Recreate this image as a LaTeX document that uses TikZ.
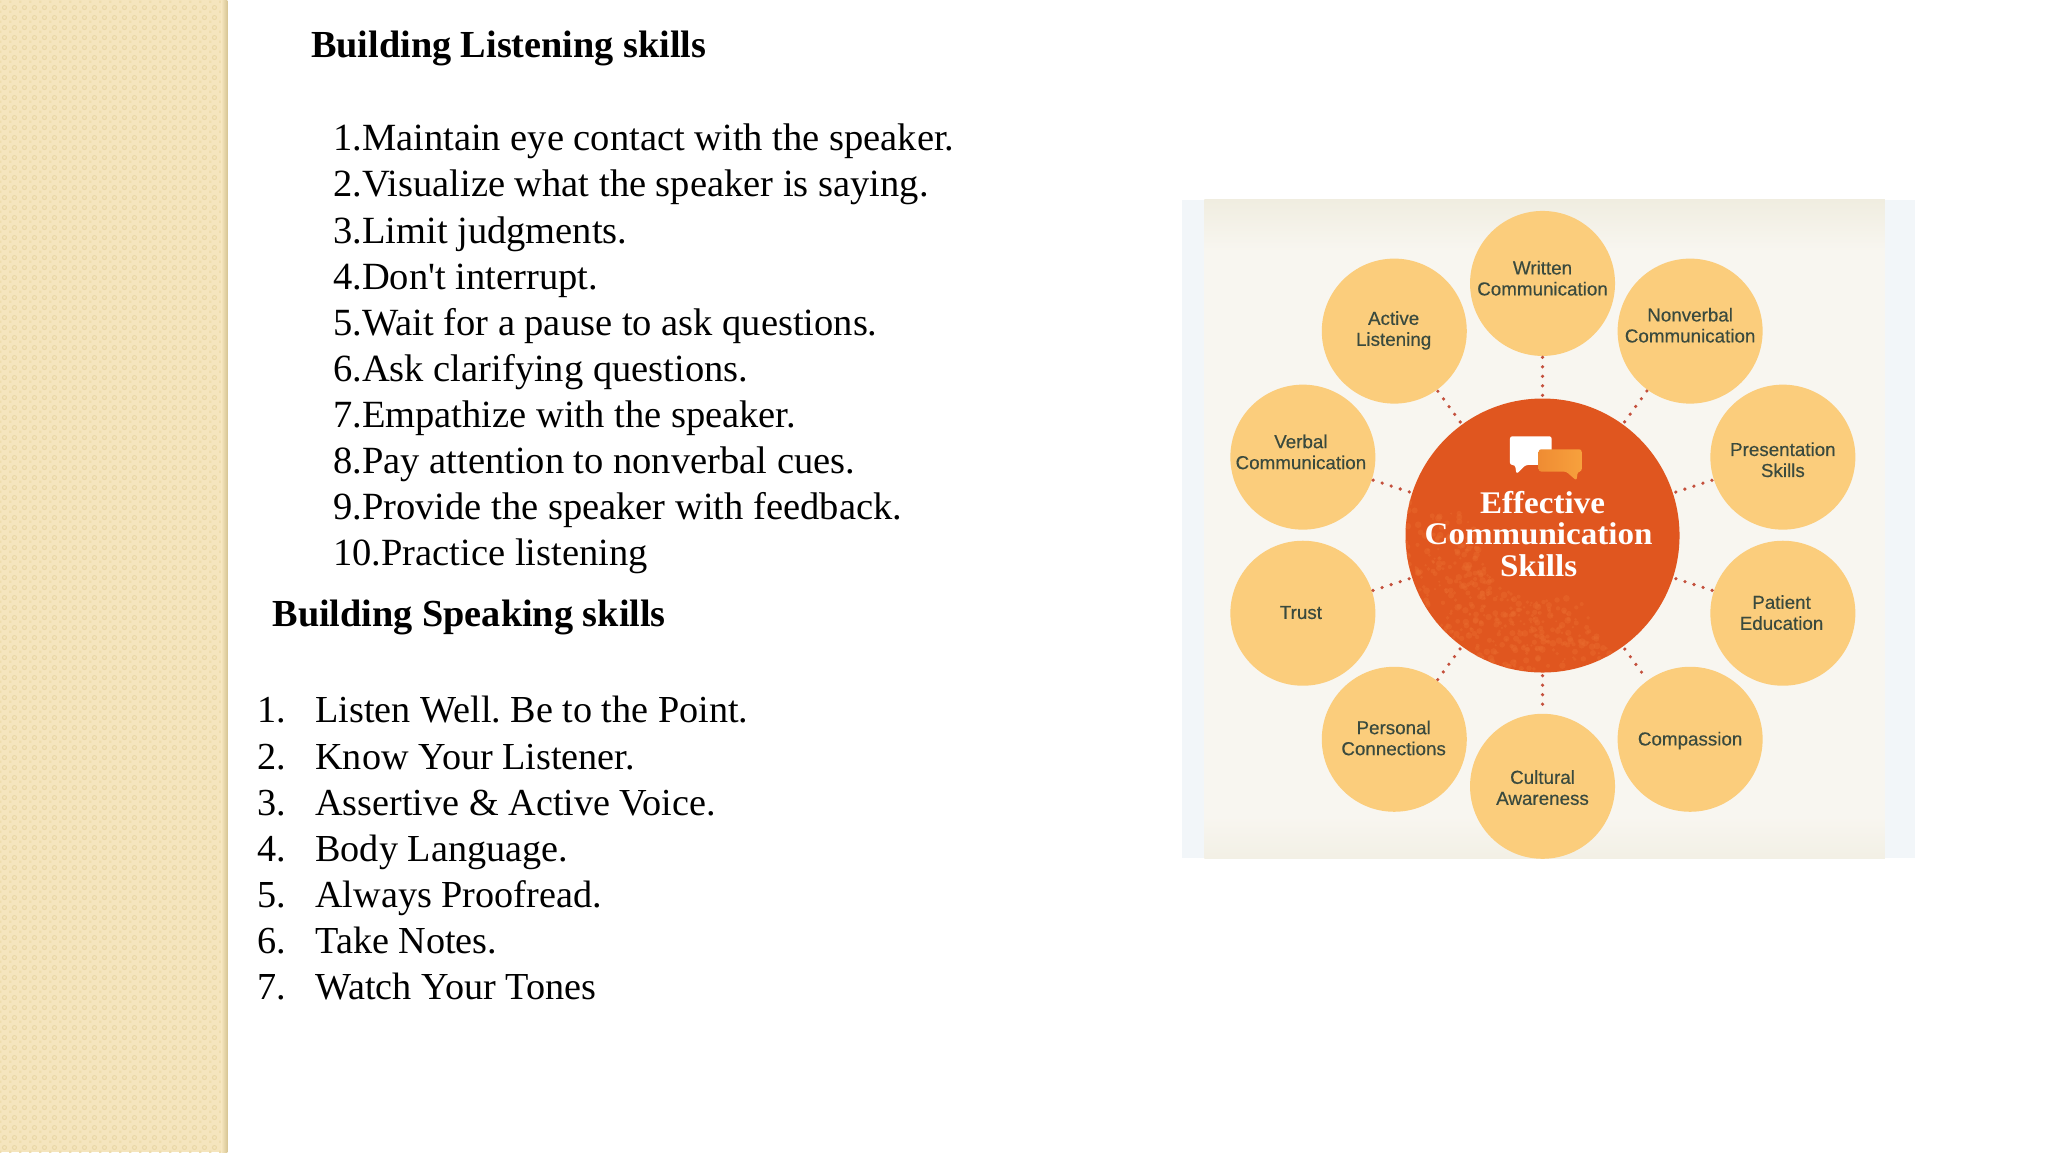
\documentclass[tikz,border=0pt]{standalone}
\usepackage{fontspec}
\newfontfamily\plainserif{Liberation Serif}
\setmainfont{Liberation Serif}
\newfontfamily\lblfont{Liberation Sans}[FakeBold=0.35]
\newfontfamily\ctrfont{Liberation Serif}[FakeStretch=1.05]
\usetikzlibrary{shadings,patterns}
\definecolor{sidebase}{HTML}{F5E5BE}
\definecolor{sidering}{HTML}{E9D7A5}
\definecolor{sidecheck}{HTML}{EFDDAE}
\definecolor{sideedge}{HTML}{D8C695}
\definecolor{outerbg}{HTML}{F2F6F9}
\definecolor{innerbg}{HTML}{F8F6F0}
\definecolor{topbg}{HTML}{F0EDE0}
\definecolor{petal}{HTML}{FBCD7C}
\definecolor{core}{HTML}{E0561F}
\definecolor{mottle}{HTML}{E96C2E}
\definecolor{labelink}{HTML}{3A4A3E}
\definecolor{dotlink}{HTML}{C4503C}
\definecolor{bubbleA}{HTML}{EF8C33}
\definecolor{bubbleB}{HTML}{F7A13D}
\pgfdeclarepatterninherentlycolored{sidetile}{\pgfpointorigin}{\pgfqpoint{10pt}{10pt}}{\pgfqpoint{10pt}{10pt}}{%
  \pgfsetfillcolor{sidecheck}%
  \pgfpathrectangle{\pgfqpoint{0pt}{0pt}}{\pgfqpoint{2.5pt}{2.5pt}}\pgfusepath{fill}%
  \pgfsetstrokecolor{sidering}\pgfsetlinewidth{1pt}%
  \pgfpathcircle{\pgfqpoint{6pt}{6pt}}{2.2pt}\pgfusepath{stroke}%
}
\tikzset{
  petalnode/.style={circle,fill=petal,minimum size=145pt,inner sep=0pt},
  corenode/.style={circle,fill=core,minimum size=274pt,inner sep=0pt},
  petaltext/.style={align=center,text=labelink,inner sep=0pt,font=\lblfont\fontsize{18.8}{21}\selectfont},
  coretext/.style={text=white,inner sep=0pt,font=\ctrfont\bfseries\fontsize{31.5}{31.5}\selectfont},
  linkdots/.style={draw=dotlink,line width=3.6pt,line cap=round,dash pattern=on 0pt off 9.5pt,shorten <=3pt,shorten >=1pt},
  headtext/.style={anchor=base west,inner sep=0pt,font=\plainserif\bfseries\fontsize{38.25}{46}\selectfont},
  bodytext/.style={anchor=base west,inner sep=0pt,font=\plainserif\frenchspacing\fontsize{38.5}{46}\selectfont},
  listtext/.style={anchor=base west,inner sep=0pt,font=\plainserif\frenchspacing\fontsize{38.2}{46}\selectfont},
}
\begin{document}
\begin{tikzpicture}[x=1.30612pt,y=-1.30612pt]
\useasboundingbox (0,0) rectangle (1568,882);
\fill[white] (0,0) rectangle (1568,882);
% side band
\fill[sidebase] (0,0) rectangle (174,882);
\fill[pattern=sidetile] (0,0) rectangle (174,882);
\shade[left color=sidebase,right color=sideedge] (169.5,0) rectangle (174,882);
% picture ground
\fill[outerbg] (905,153) rectangle (1466,657);
\fill[innerbg] (922,153) rectangle (1443,657);
\shade[top color=topbg,bottom color=innerbg] (922,153) rectangle (1443,192);
\shade[top color=innerbg,bottom color=topbg!70!innerbg] (922,625) rectangle (1443,657);
% nodes
\node[corenode] (core) at (1181,410) {};
\begin{scope}
\clip (1181,410) circle (105);
\pgfmathsetseed{4217}
\foreach \k in {1,...,420}{
  \pgfmathsetmacro{\ang}{165+rnd*135}
  \pgfmathsetmacro{\rad}{50+rnd*58}
  \fill[mottle,opacity=0.45] (1181,410) ++({\ang}:{\rad} and {-\rad}) circle (0.8+rnd*1.8);
}
\end{scope}
\node[petalnode] (written) at (1181,217) {};
\node[petalnode] (active) at (1067.5,253.5) {};
\node[petalnode] (nonverbal) at (1294,253.5) {};
\node[petalnode] (verbal) at (997.5,350) {};
\node[petalnode] (presentation) at (1365,350) {};
\node[petalnode] (trust) at (997.5,469.5) {};
\node[petalnode] (patient) at (1365,469.5) {};
\node[petalnode] (personal) at (1067.5,566) {};
\node[petalnode] (compassion) at (1294,566) {};
\node[petalnode] (cultural) at (1181,602) {};
\foreach \p in {written,active,nonverbal,verbal,presentation,trust,patient,personal,compassion,cultural}
  \draw[linkdots] (core) -- (\p);
% petal labels
\node[petaltext] (twritten) at (1181,213) {Written\\Communication};
\node[petaltext] (tactive) at (1067,253) {Active\\Listening};
\node[petaltext] (tnonverbal) at (1294,249) {Nonverbal\\Communication};
\node[petaltext] (tverbal) at (996,346) {Verbal\\Communication};
\node[petaltext] (tpresentation) at (1365,352) {Presentation\\Skills};
\node[petaltext] (ttrust) at (996,469) {Trust};
\node[petaltext] (tpatient) at (1364,469) {Patient\\Education};
\node[petaltext] (tpersonal) at (1067,565) {Personal\\Connections};
\node[petaltext] (tcompassion) at (1294,567) {Compassion};
\node[petaltext] (tcultural) at (1181,603) {Cultural\\Awareness};
% core text
\node[coretext] (teff) at (1181,385) {Effective};
\node[coretext] (tcom) at (1178,409) {Communication};
\node[coretext] (tski) at (1178,433) {Skills};
% speech icon
\fill[white,rounded corners=2.5pt] (1156,334) -- (1188,334) -- (1188,356) -- (1168,356) -- (1161,363) -- (1160,356) -- (1156,356) -- cycle;
\shade[left color=bubbleA,right color=bubbleB,rounded corners=2.5pt] (1178,344) -- (1211,344) -- (1211,361) -- (1208,361) -- (1207,368) -- (1199,361) -- (1178,361) -- cycle;
% text left
\node[headtext] (h1) at (238,44) {Building Listening skills};
\node[bodytext] (a1) at (255,115.5) {1.Maintain eye contact with the speaker.};
\node[bodytext] (a2) at (255,150.8) {2.Visualize what the speaker is saying.};
\node[bodytext] (a3) at (255,186.1) {3.Limit judgments.};
\node[bodytext] (a4) at (255,221.4) {4.Don't interrupt.};
\node[bodytext] (a5) at (255,256.7) {5.Wait for a pause to ask questions.};
\node[bodytext] (a6) at (255,292) {6.Ask clarifying questions.};
\node[bodytext] (a7) at (255,327.3) {7.Empathize with the speaker.};
\node[bodytext] (a8) at (255,362.6) {8.Pay attention to nonverbal cues.};
\node[bodytext] (a9) at (255,397.9) {9.Provide the speaker with feedback.};
\node[bodytext] (a10) at (255,433.2) {10.Practice listening};
\node[headtext] (h2) at (208.5,480) {Building Speaking skills};
\node[listtext] (n1) at (197,553.5) {1.};
\node[listtext] (b1) at (241.3,553.5) {Listen Well. Be to the Point.};
\node[listtext] (n2) at (197,588.8) {2.};
\node[listtext] (b2) at (241.3,588.8) {Know Your Listener.};
\node[listtext] (n3) at (197,624.1) {3.};
\node[listtext] (b3) at (241.3,624.1) {Assertive \& Active Voice.};
\node[listtext] (n4) at (197,659.4) {4.};
\node[listtext] (b4) at (241.3,659.4) {Body Language.};
\node[listtext] (n5) at (197,694.7) {5.};
\node[listtext] (b5) at (241.3,694.7) {Always Proofread.};
\node[listtext] (n6) at (197,730) {6.};
\node[listtext] (b6) at (241.3,730) {Take Notes.};
\node[listtext] (n7) at (197,765.3) {7.};
\node[listtext] (b7) at (241.3,765.3) {Watch Your Tones};
\end{tikzpicture}
\end{document}
